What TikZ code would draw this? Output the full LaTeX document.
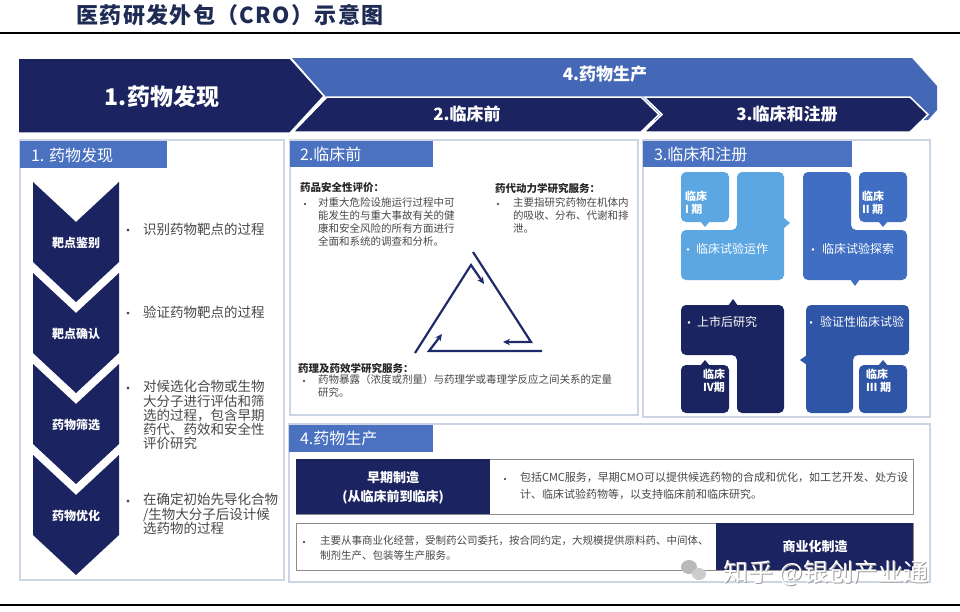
\documentclass[tikz,border=0pt]{standalone}
\usepackage{fontspec}
\setmainfont{Noto Sans CJK SC}
\usetikzlibrary{arrows.meta}
\definecolor{navy}{HTML}{1B2461}
\definecolor{bandblue}{HTML}{4468B6}
\definecolor{hdrblue}{HTML}{4A72C0}
\definecolor{panelline}{HTML}{CCD5E3}
\definecolor{qlight}{HTML}{5CA6E2}
\definecolor{qmid}{HTML}{3F6EC2}
\definecolor{qdeep}{HTML}{2F55A6}
\definecolor{qnavy}{HTML}{1A2460}
\definecolor{txtgray}{HTML}{484848}
\definecolor{titlenavy}{HTML}{1E2B55}
\definecolor{boxline}{HTML}{8C8C8C}
\definecolor{trinavy}{HTML}{1F2A6B}
\newcommand\fs[2]{\fontsize{#1}{#2}\selectfont}
\begin{document}
\begin{tikzpicture}[x=1pt,y=-1pt,
  txt/.style={inner sep=0pt, outer sep=0pt},
  wtxt/.style={txt, text=white},
  gtxt/.style={txt, text=txtgray},
  htxt/.style={wtxt, font=\fs{16}{16}, anchor=west},
  panel/.style={draw=panelline, line width=1.2pt, fill=white},
  hdr/.style={fill=hdrblue},
  band/.style={fill=navy, draw=white, line width=1.5pt},
  tri/.style={draw=trinavy, line width=2.2pt, line join=miter},
  triarrow/.style={tri, -{Stealth[length=7pt,width=6.5pt]}},
  bx/.style={draw=boxline, line width=0.8pt, fill=white},
  qlbl/.style={wtxt, font=\fs{11}{13.5}\bfseries, anchor=north west, align=left},
  qtxt/.style={wtxt, font=\fs{12}{12}, anchor=west},
]
\useasboundingbox (0,0) rectangle (960,611);
\fill[white] (0,0) rectangle (960,611);

% ---------- title ----------
\node[txt, text=titlenavy, font=\fs{22}{22}\bfseries\addfontfeature{LetterSpace=6}] (title) at (230,15) {医药研发外包（CRO）示意图};
\draw[line width=2pt] (0,33) -- (960,33);
\draw[line width=2pt] (0,605) -- (960,605);

% ---------- top banner ----------
\fill[bandblue] (292,58) -- (912,58) -- (937,86) -- (937,110) -- (928,120) -- (640,120) -- (326,97) -- cycle;
\filldraw[band] (18,58) -- (290,58) -- (324,96) -- (290,133) -- (18,133) -- cycle;
\filldraw[band] (327,97) -- (641,97) -- (659,114.5) -- (641,132) -- (293,132) -- cycle;
\filldraw[band] (644,97) -- (910,97) -- (928,114.5) -- (910,132) -- (644,132) -- (662,114.5) -- cycle;
\node[wtxt, font=\fs{23}{23}\bfseries] (t1) at (162,97) {1.药物发现};
\node[wtxt, font=\fs{17}{17}\bfseries] (t4) at (605,74) {4.药物生产};
\node[wtxt, font=\fs{17}{17}\bfseries] (t2) at (467,114) {2.临床前};
\node[wtxt, font=\fs{17}{17}\bfseries] (t3) at (787,114) {3.临床和注册};

% ---------- panel 1 ----------
\draw[panel] (20,140) rectangle (284,580);
\fill[hdr] (20,141) rectangle (167,168);
\node[htxt] (h1) at (31,155) {1. 药物发现};
\foreach \y/\t/\n in {182/靶点鉴别/1, 273/靶点确认/2, 364/药物筛选/3, 455/药物优化/4} {
  \fill[navy] (33,\y) -- (76,\y+40) -- (119,\y) -- (119,\y+80) -- (76,\y+120) -- (33,\y+80) -- cycle;
  \node[wtxt, font=\fs{12}{12}\bfseries] (chev\n) at (76,\y+61) {\t};
}
\node[gtxt, font=\fs{13}{13}] (lb1) at (128,232.5) {•};
\node[gtxt, font=\fs{13.5}{14.2}, anchor=west] (lt1) at (143,229) {识别药物靶点的过程};
\node[gtxt, font=\fs{13}{13}] (lb2) at (128,315.5) {•};
\node[gtxt, font=\fs{13.5}{14.2}, anchor=west] (lt2) at (143,312) {验证药物靶点的过程};
\node[gtxt, font=\fs{13}{13}] (lb3) at (128,390.5) {•};
\node[gtxt, font=\fs{13.5}{14.2}, anchor=north west, align=left] (lt3) at (143,380.5) {对候选化合物或生物\\大分子进行评估和筛\\选的过程，包含早期\\药代、药效和安全性\\评价研究};
\node[gtxt, font=\fs{13}{13}] (lb4) at (128,503.5) {•};
\node[gtxt, font=\fs{13.5}{14.2}, anchor=north west, align=left] (lt4) at (143,493.5) {在确定初始先导化合物\\/生物大分子后设计候\\选药物的过程};

% ---------- panel 2 ----------
\draw[panel] (290,140) rectangle (638,415);
\fill[hdr] (290,141) rectangle (433,167);
\node[htxt] (h2) at (300,154.5) {2.临床前};
\node[txt, text=black!85, font=\fs{10.5}{10.5}\bfseries, anchor=west] (s1h) at (300,188) {药品安全性评价：};
\node[gtxt, font=\fs{10.5}{10.5}] (s1b) at (305,205.5) {•};
\node[gtxt, font=\fs{10.5}{12.7}, anchor=north west, align=left] (s1t) at (318,198) {对重大危险设施运行过程中可\\能发生的与重大事故有关的健\\康和安全风险的所有方面进行\\全面和系统的调查和分析。};
\node[txt, text=black!85, font=\fs{10.5}{10.5}\bfseries, anchor=west] (s2h) at (495,188) {药代动力学研究服务：};
\node[gtxt, font=\fs{10.5}{10.5}] (s2b) at (498,205.5) {•};
\node[gtxt, font=\fs{10.5}{12.7}, anchor=north west, align=left] (s2t) at (513,198) {主要指研究药物在机体内\\的吸收、分布、代谢和排\\泄。};
\node[txt, text=black!85, font=\fs{10.5}{10.5}\bfseries, anchor=west] (s3h) at (298,368) {药理及药效学研究服务：};
\node[gtxt, font=\fs{10.5}{10.5}] (s3b) at (304,382.5) {•};
\node[gtxt, font=\fs{10.5}{12.7}, anchor=north west, align=left] (s3t) at (318,375) {药物暴露（浓度或剂量）与药理学或毒理学反应之间关系的定量\\研究。};
\coordinate (p1) at (415,353); \coordinate (p2) at (471,265); \coordinate (p3) at (484,284);
\coordinate (q1) at (473,252); \coordinate (q2) at (531,342); \coordinate (q3) at (503,342);
\coordinate (r1) at (542,351); \coordinate (r2) at (429,351); \coordinate (r3) at (442,334);
\draw[triarrow] (p1) -- (p2) -- (p3);
\draw[triarrow] (q1) -- (q2) -- (q3);
\draw[triarrow] (r1) -- (r2) -- (r3);

% ---------- panel 3 ----------
\draw[panel] (643,140) rectangle (930,417);
\fill[hdr] (643,141) rectangle (852,167);
\node[htxt] (h3) at (654,154.5) {3.临床和注册};
% top-left
\fill[qlight, rounded corners=5pt] (737,172) -- (784,172) -- (784,280) -- (681,280) -- (681,230) -- (737,230) -- cycle;
\fill[qlight] (784,218) -- (790,223) -- (784,228) -- cycle;
\fill[qlight, rounded corners=5pt] (681,172) rectangle (729,222);
\fill[qlight] (700,221) -- (705,227) -- (710,221) -- cycle;
\node[qlbl] (ql1) at (685,190.5) {临床\\I 期};
\node[wtxt, font=\fs{12}{12}] (qb1) at (688,252) {•};
\node[qtxt] (qt1) at (696,249) {临床试验运作};
% top-right
\fill[qmid, rounded corners=5pt] (803,172) -- (851,172) -- (851,230) -- (907,230) -- (907,280) -- (803,280) -- cycle;
\fill[qmid] (850,279) -- (855,286) -- (860,279) -- cycle;
\fill[qmid, rounded corners=5pt] (859,172) rectangle (907,222);
\fill[qmid] (878,221) -- (883,227) -- (888,221) -- cycle;
\node[qlbl] (ql2) at (862,190.5) {临床\\II 期};
\node[wtxt, font=\fs{12}{12}] (qb2) at (813,252) {•};
\node[qtxt] (qt2) at (822,249) {临床试验探索};
% bottom-right
\fill[qdeep, rounded corners=5pt] (806,305) -- (909,305) -- (909,355) -- (853,355) -- (853,413) -- (806,413) -- cycle;
\fill[qdeep] (807,355) -- (800,360) -- (807,365) -- cycle;
\fill[qdeep, rounded corners=5pt] (859,365) rectangle (907,413);
\fill[qdeep] (878,366) -- (883,360) -- (888,366) -- cycle;
\node[qlbl] (ql3) at (866,368.5) {临床\\III 期};
\node[wtxt, font=\fs{12}{12}] (qb3) at (811,325) {•};
\node[qtxt] (qt3) at (820,322) {验证性临床试验};
% bottom-left
\fill[qnavy, rounded corners=5pt] (681,305) -- (784,305) -- (784,413) -- (737,413) -- (737,355) -- (681,355) -- cycle;
\fill[qnavy] (728,306) -- (733,299) -- (738,306) -- cycle;
\fill[qnavy, rounded corners=5pt] (681,365) rectangle (729,413);
\fill[qnavy] (700,366) -- (705,360) -- (710,366) -- cycle;
\node[qlbl] (ql4) at (703,368.5) {临床\\IV期};
\node[wtxt, font=\fs{12}{12}] (qb4) at (689,325) {•};
\node[qtxt] (qt4) at (697,322) {上市后研究};

% ---------- panel 4 ----------
\draw[panel] (289,424) rectangle (930,582);
\fill[hdr] (289,425) rectangle (433,452);
\node[htxt] (h4) at (300,438.5) {4.药物生产};
\draw[bx] (296,459) rectangle (913,514);
\fill[navy] (296,459) rectangle (490,514);
\node[wtxt, font=\fs{13}{13}\bfseries] (em1) at (393,478) {早期制造};
\node[wtxt, font=\fs{13}{13}\bfseries] (em2) at (393,497) {(从临床前到临床)};
\node[gtxt, font=\fs{10.5}{10.5}] (emb) at (505,481) {•};
\node[gtxt, font=\fs{11}{16.5}, anchor=north west, align=left] (emt) at (520,472.5) {包括CMC服务，早期CMO可以提供候选药物的合成和优化，如工艺开发、处方设\\计、临床试验药物等，以支持临床前和临床研究。};
\draw[bx] (296,523) rectangle (913,570);
\fill[navy] (716,523) rectangle (913,570);
\node[wtxt, font=\fs{13}{13}\bfseries] (cm) at (815,547) {商业化制造};
\node[gtxt, font=\fs{10.5}{10.5}] (cmb) at (304,544) {•};
\node[gtxt, font=\fs{10.5}{15}, anchor=north west, align=left] (cmt) at (320,536) {主要从事商业化经营，受制药公司委托，按合同约定，大规模提供原料药、中间体、\\制剂生产、包装等生产服务。};

% ---------- watermark ----------
\fill[gray!55] (689,567) ellipse (8 and 7);
\fill[gray!40] (699,574) ellipse (7 and 6);
\node[txt, text=gray!75, font=\fs{25}{25}] (wms) at (827,574) {知乎 @银创产业通};
\node[txt, text=white, font=\fs{25}{25}] (wm) at (826,573) {知乎 @银创产业通};
\end{tikzpicture}
\end{document}
